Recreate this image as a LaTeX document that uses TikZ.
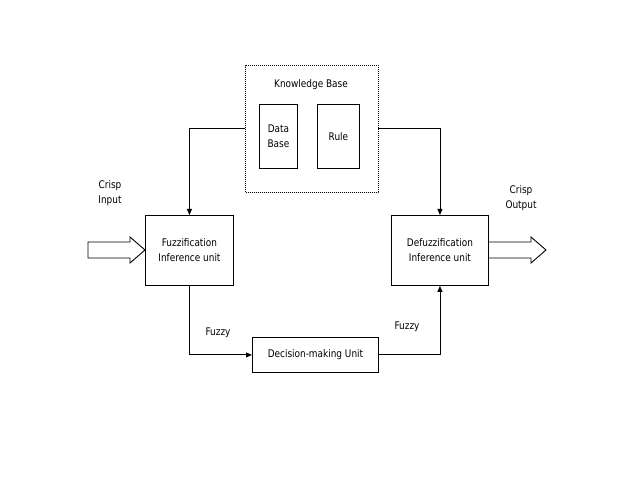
\documentclass[tikz,border=0pt]{standalone}
\usepackage{fontspec}
\setmainfont[FakeStretch=0.85]{DejaVu Sans}
\usetikzlibrary{arrows.meta}
\begin{document}
\begin{tikzpicture}[x=1pt,y=-1pt,
  box/.style={draw,line width=0.9pt,inner sep=0pt},
  lbl/.style={font=\fontsize{10.5}{15}\selectfont,align=center},
  conn/.style={line width=0.9pt,-{Triangle[length=6pt,width=5pt]}}]
\useasboundingbox (0,0) rectangle (638,478);
\node[box,dash pattern=on 1pt off 1pt,line width=1.4pt,minimum width=133,minimum height=127,anchor=north west] (kb) at (245,65) {};
\node[lbl] (kbt) at (311,85) {Knowledge Base};
\node[box,minimum width=38,minimum height=64,anchor=north west,lbl] (db) at (259,104) {Data\\Base};
\node[box,minimum width=42,minimum height=64,anchor=north west,lbl] (rule) at (317,104) {Rule};
\node[box,minimum width=88,minimum height=70,anchor=north west,lbl] (fz) at (145,215) {Fuzzification\\Inference unit};
\node[box,minimum width=97,minimum height=70,anchor=north west,lbl] (dfz) at (391,215) {Defuzzification\\Inference unit};
\node[box,minimum width=126,minimum height=35,anchor=north west,lbl] (dm) at (252,337) {Decision-making Unit};
\coordinate (kbl) at (245,128);
\coordinate (kbr) at (378,128);
\draw[conn] (kbl) -| (fz.north);
\draw[conn] (kbr) -| (dfz.north);
\draw[conn] (fz.south) |- (dm.west);
\draw[conn] (dm.east) -| (dfz.south);
\node[lbl] (f1) at (218,333) {Fuzzy};
\node[lbl] (f2) at (407,327) {Fuzzy};
\node[lbl] (ci) at (110,193) {Crisp\\Input};
\node[lbl] (co) at (521,198) {Crisp\\Output};
\draw[line width=0.9pt] (88,242) -- (130,242) -- (130,237) -- (145,250) -- (130,263) -- (130,258) -- (88,258) -- cycle;
\draw[line width=0.9pt] (488,242) -- (531,242) -- (531,237) -- (546,250) -- (531,263) -- (531,258) -- (488,258);
\end{tikzpicture}
\end{document}
